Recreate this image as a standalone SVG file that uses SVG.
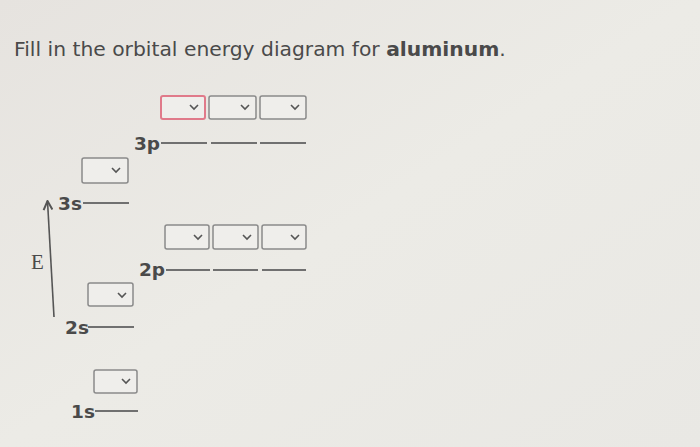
<svg xmlns="http://www.w3.org/2000/svg" width="700" height="447" viewBox="0 0 700 447">
<defs>
<linearGradient id="bg" x1="0" y1="0" x2="1" y2="1">
<stop offset="0" stop-color="#e6e3df"/>
<stop offset="0.5" stop-color="#ecebe6"/>
<stop offset="1" stop-color="#e9e8e4"/>
</linearGradient>
<marker id="ah" viewBox="0 0 10 10" refX="9" refY="5" markerWidth="11" markerHeight="11" orient="auto" markerUnits="userSpaceOnUse">
<path d="M1,1 L9,5 L1,9" fill="none" stroke="#555" stroke-width="1.8"/>
</marker>
</defs>
<style>
.title{font-family:"DejaVu Sans",Verdana,sans-serif;font-size:20.3px;fill:#4a4a4a}
.lbl{font-family:"DejaVu Sans",Verdana,sans-serif;font-size:18.5px;font-weight:bold;fill:#4a4a4a;text-anchor:end}
.box{fill:#efeeeb;stroke:#8a8a8a;stroke-width:1.5}
.sel{fill:#efeeeb;stroke:#e07a8a;stroke-width:2}
.chev{fill:none;stroke:#555;stroke-width:1.6}
.lvl{stroke:#707070;stroke-width:1.8}
</style>
<rect width="700" height="447" fill="url(#bg)"/>
<text class="title" x="14" y="56">Fill in the orbital energy diagram for <tspan font-weight="bold">aluminum</tspan>.</text>

<g id="axis">
<line x1="54" y1="317" x2="47.5" y2="201" stroke="#555" stroke-width="1.6" marker-end="url(#ah)"/>
<text x="31" y="269" font-family="Liberation Serif,serif" font-size="21" fill="#4a4a4a">E</text>
</g>

<g id="orbital-3p">
<text class="lbl" x="160" y="150">3p</text>
<rect class="sel" x="161" y="96" width="44" height="23" rx="2"/>
<path class="chev" d="M190,105 l4,4 l4,-4"/>
<rect class="box" x="209" y="96" width="47" height="23" rx="2"/>
<path class="chev" d="M241,105 l4,4 l4,-4"/>
<rect class="box" x="260" y="96" width="46" height="23" rx="2"/>
<path class="chev" d="M291,105 l4,4 l4,-4"/>
</g>
<g id="orbital-3s">
<text class="lbl" x="82" y="210">3s</text>
<rect class="box" x="82" y="158" width="46" height="25" rx="2"/>
<path class="chev" d="M112,168 l4,4 l4,-4"/>
</g>
<g id="orbital-2p">
<text class="lbl" x="165" y="276">2p</text>
<rect class="box" x="165" y="225" width="44" height="24" rx="2"/>
<path class="chev" d="M194,235 l4,4 l4,-4"/>
<rect class="box" x="213" y="225" width="45" height="24" rx="2"/>
<path class="chev" d="M243,235 l4,4 l4,-4"/>
<rect class="box" x="262" y="225" width="44" height="24" rx="2"/>
<path class="chev" d="M291,235 l4,4 l4,-4"/>
</g>
<g id="orbital-2s">
<text class="lbl" x="89" y="334">2s</text>
<rect class="box" x="88" y="283" width="45" height="23" rx="2"/>
<path class="chev" d="M118,293 l4,4 l4,-4"/>
</g>
<g id="orbital-1s">
<text class="lbl" x="95" y="418">1s</text>
<rect class="box" x="94" y="370" width="43" height="23" rx="2"/>
<path class="chev" d="M122,379 l4,4 l4,-4"/>
</g>

<g id="levels">
<line class="lvl" x1="161" y1="143" x2="207" y2="143"/>
<line class="lvl" x1="211" y1="143" x2="257" y2="143"/>
<line class="lvl" x1="260" y1="143" x2="306" y2="143"/>
<line class="lvl" x1="83" y1="203" x2="129" y2="203"/>
<line class="lvl" x1="166" y1="270" x2="210" y2="270"/>
<line class="lvl" x1="213" y1="270" x2="258" y2="270"/>
<line class="lvl" x1="262" y1="270" x2="306" y2="270"/>
<line class="lvl" x1="88" y1="327" x2="134" y2="327"/>
<line class="lvl" x1="95" y1="411" x2="138" y2="411"/>
</g>
</svg>
